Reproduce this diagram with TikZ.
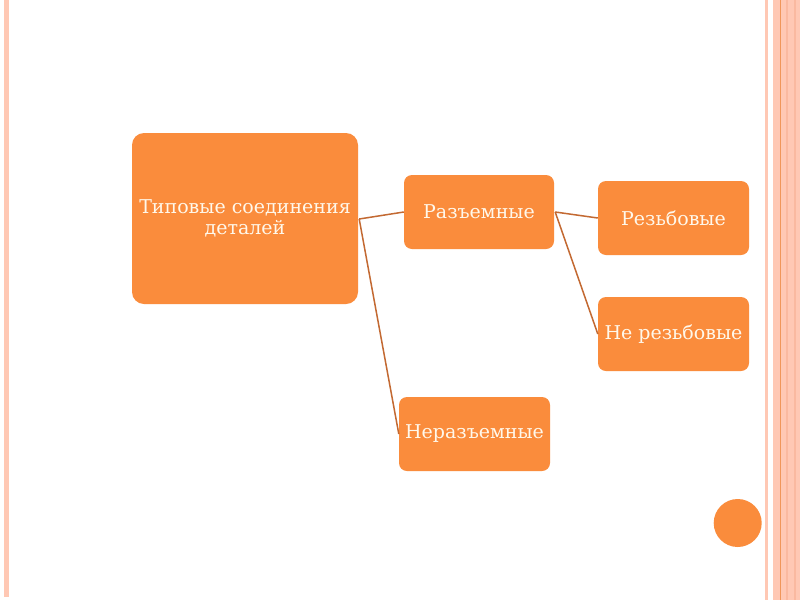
\documentclass[tikz,border=0pt]{standalone}
\usepackage{fontspec}
\setmainfont{DejaVu Serif}
\definecolor{boxfill}{RGB}{250,140,60}
\definecolor{boxtext}{RGB}{255,248,235}
\definecolor{linkcol}{RGB}{195,105,50}
\definecolor{stripe}{RGB}{255,200,180}
\definecolor{stripedark}{RGB}{250,185,160}
\definecolor{stripeline}{RGB}{240,150,90}
\tikzset{
  box/.style={draw=none, fill=boxfill, rounded corners=8pt, text=boxtext, align=center, font=\fontsize{19}{21}\selectfont, inner sep=0pt},
  link/.style={draw=linkcol, line width=1.5pt}
}
\begin{document}
\begin{tikzpicture}[x=1pt,y=-1pt]
\useasboundingbox (0,0) rectangle (800,600);
\fill[white] (0,0) rectangle (800,600);
% left stripe
\fill[stripe] (4,0) rectangle (9,597);
% right stripes
\fill[stripe] (765,0) rectangle (768,600);
\fill[stripe] (773,0) rectangle (800,600);
\fill[stripedark] (786,0) rectangle (788,600);
\fill[stripedark] (794,0) rectangle (796,600);
\draw[stripeline, line width=0.8pt] (780.3,0) -- (780.3,600);
% boxes
\node[box, minimum width=226pt, minimum height=171pt, rounded corners=12pt] (root) at (245,218.5) {Типовые соединения\\деталей};
\node[box, minimum width=150pt, minimum height=74pt] (raz) at (479,212) {Разъемные};
\node[box, minimum width=151pt, minimum height=74pt] (rez) at (673.5,218) {Резьбовые};
\node[box, minimum width=151pt, minimum height=74pt] (nerez) at (673.5,334) {Не резьбовые};
\node[box, minimum width=151pt, minimum height=74pt] (neraz) at (474.5,434) {Неразъемные};
% connectors
\coordinate (j1) at ([xshift=1pt,yshift=-0.5pt]root.east);
\coordinate (j2) at ([xshift=1pt,yshift=0pt]raz.east);
\draw[link] (j1) -- (raz.west);
\draw[link] (j1) -- (neraz.west);
\draw[link] (j2) -- (rez.west);
\draw[link] (j2) -- (nerez.west);
% circle
\node[circle, fill=boxfill, minimum size=48pt, inner sep=0pt] (dot) at (737.7,523) {};
\end{tikzpicture}
\end{document}
